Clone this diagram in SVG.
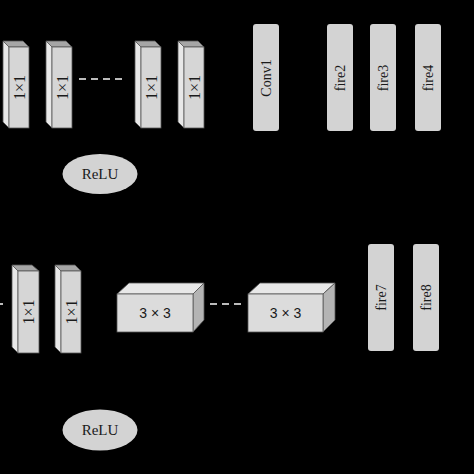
<svg xmlns="http://www.w3.org/2000/svg" width="474" height="474" viewBox="0 0 474 474">
<style>
.front{fill:#d6d6d6;stroke:#555;stroke-width:0.8}
.lside{fill:#e8e8e8;stroke:#555;stroke-width:0.8}
.ltop{fill:#a6a6a6;stroke:#555;stroke-width:0.8}
.bfront{fill:#dcdcdc;stroke:#555;stroke-width:0.8}
.btop{fill:#e8e8e8;stroke:#555;stroke-width:0.8}
.bside{fill:#b4b4b4;stroke:#555;stroke-width:0.8}
.layer{fill:#d3d3d3}
.relu{fill:#d3d3d3}
.serif{font-family:"Liberation Serif","Times New Roman",serif;fill:#1a1a1a}
.sans{font-family:"Liberation Sans",Arial,sans-serif;fill:#1a1a1a}
.k{font-size:16px}
.dash{stroke:#bbb;stroke-width:2;stroke-dasharray:7,5;fill:none}
</style>
<rect width="474" height="474" fill="#000"/>
<g id="connectors">
<line class="dash" x1="79" y1="79" x2="125" y2="79"/>
<line class="dash" x1="210" y1="304" x2="243" y2="304" stroke-dasharray="8,4"/>
<line x1="0" y1="304" x2="3" y2="304" stroke="#bbb" stroke-width="2"/>
</g>
<g id="k1a">
<polygon class="ltop" points="3,41 23,41 29,47 9,47"/>
<polygon class="lside" points="3,41 9,47 9,128 3,122"/>
<rect class="front" x="9" y="47" width="20" height="81"/>
<text class="serif k" text-anchor="middle" transform="translate(24.5,87.5) rotate(-90)">1×1</text>
</g>
<g id="k1b">
<polygon class="ltop" points="46,41 66,41 72,47 52,47"/>
<polygon class="lside" points="46,41 52,47 52,128 46,122"/>
<rect class="front" x="52" y="47" width="20" height="81"/>
<text class="serif k" text-anchor="middle" transform="translate(67.5,87.5) rotate(-90)">1×1</text>
</g>
<g id="k1c">
<polygon class="ltop" points="135,41 155,41 161,47 141,47"/>
<polygon class="lside" points="135,41 141,47 141,128 135,122"/>
<rect class="front" x="141" y="47" width="20" height="81"/>
<text class="serif k" text-anchor="middle" transform="translate(156.5,87.5) rotate(-90)">1×1</text>
</g>
<g id="k1d">
<polygon class="ltop" points="178,41 198,41 204,47 184,47"/>
<polygon class="lside" points="178,41 184,47 184,128 178,122"/>
<rect class="front" x="184" y="47" width="20" height="81"/>
<text class="serif k" text-anchor="middle" transform="translate(199.5,87.5) rotate(-90)">1×1</text>
</g>
<g id="conv1">
<rect class="layer" x="253" y="24" width="26" height="107" rx="3"/>
<text class="serif" font-size="14" text-anchor="middle" transform="translate(271,78) rotate(-90)">Conv1</text>
</g>
<g id="fire2">
<rect class="layer" x="327" y="24" width="26" height="107" rx="3"/>
<text class="serif" font-size="14" text-anchor="middle" transform="translate(345,78) rotate(-90)">fire2</text>
</g>
<g id="fire3">
<rect class="layer" x="370" y="24" width="26" height="107" rx="3"/>
<text class="serif" font-size="14" text-anchor="middle" transform="translate(388,78) rotate(-90)">fire3</text>
</g>
<g id="fire4">
<rect class="layer" x="415" y="24" width="26" height="107" rx="3"/>
<text class="serif" font-size="14" text-anchor="middle" transform="translate(433,78) rotate(-90)">fire4</text>
</g>
<g id="relu1">
<ellipse class="relu" cx="100" cy="174" rx="37.5" ry="20"/>
<text class="serif" font-size="15" text-anchor="middle" x="100" y="179">ReLU</text>
</g>
<g id="k2a">
<polygon class="ltop" points="12,265 32,265 39,271 18,271"/>
<polygon class="lside" points="12,265 18,271 18,353 12,347"/>
<rect class="front" x="18" y="271" width="21" height="82"/>
<text class="serif k" text-anchor="middle" transform="translate(34,312) rotate(-90)">1×1</text>
</g>
<g id="k2b">
<polygon class="ltop" points="55,265 75,265 81,271 61,271"/>
<polygon class="lside" points="55,265 61,271 61,353 55,347"/>
<rect class="front" x="61" y="271" width="20" height="82"/>
<text class="serif k" text-anchor="middle" transform="translate(76.5,312) rotate(-90)">1×1</text>
</g>
<g id="k3a">
<polygon class="btop" points="117,294 129,283 204,283 193,294"/>
<polygon class="bside" points="193,294 204,283 204,320 193,332"/>
<rect class="bfront" x="117" y="294" width="76" height="38"/>
<text class="sans" font-size="14" text-anchor="middle" x="155" y="318">3 × 3</text>
</g>
<g id="k3b">
<polygon class="btop" points="248,294 260,283 335,283 323,294"/>
<polygon class="bside" points="323,294 335,283 335,320 323,332"/>
<rect class="bfront" x="248" y="294" width="75" height="38"/>
<text class="sans" font-size="14" text-anchor="middle" x="285.5" y="318">3 × 3</text>
</g>
<g id="fire7">
<rect class="layer" x="368" y="244" width="26" height="107" rx="3"/>
<text class="serif" font-size="14" text-anchor="middle" transform="translate(386,297.5) rotate(-90)">fire7</text>
</g>
<g id="fire8">
<rect class="layer" x="413" y="244" width="26" height="107" rx="3"/>
<text class="serif" font-size="14" text-anchor="middle" transform="translate(431,297.5) rotate(-90)">fire8</text>
</g>
<g id="relu2">
<ellipse class="relu" cx="100" cy="430" rx="37.5" ry="20.5"/>
<text class="serif" font-size="15" text-anchor="middle" x="100" y="435">ReLU</text>
</g>
</svg>
